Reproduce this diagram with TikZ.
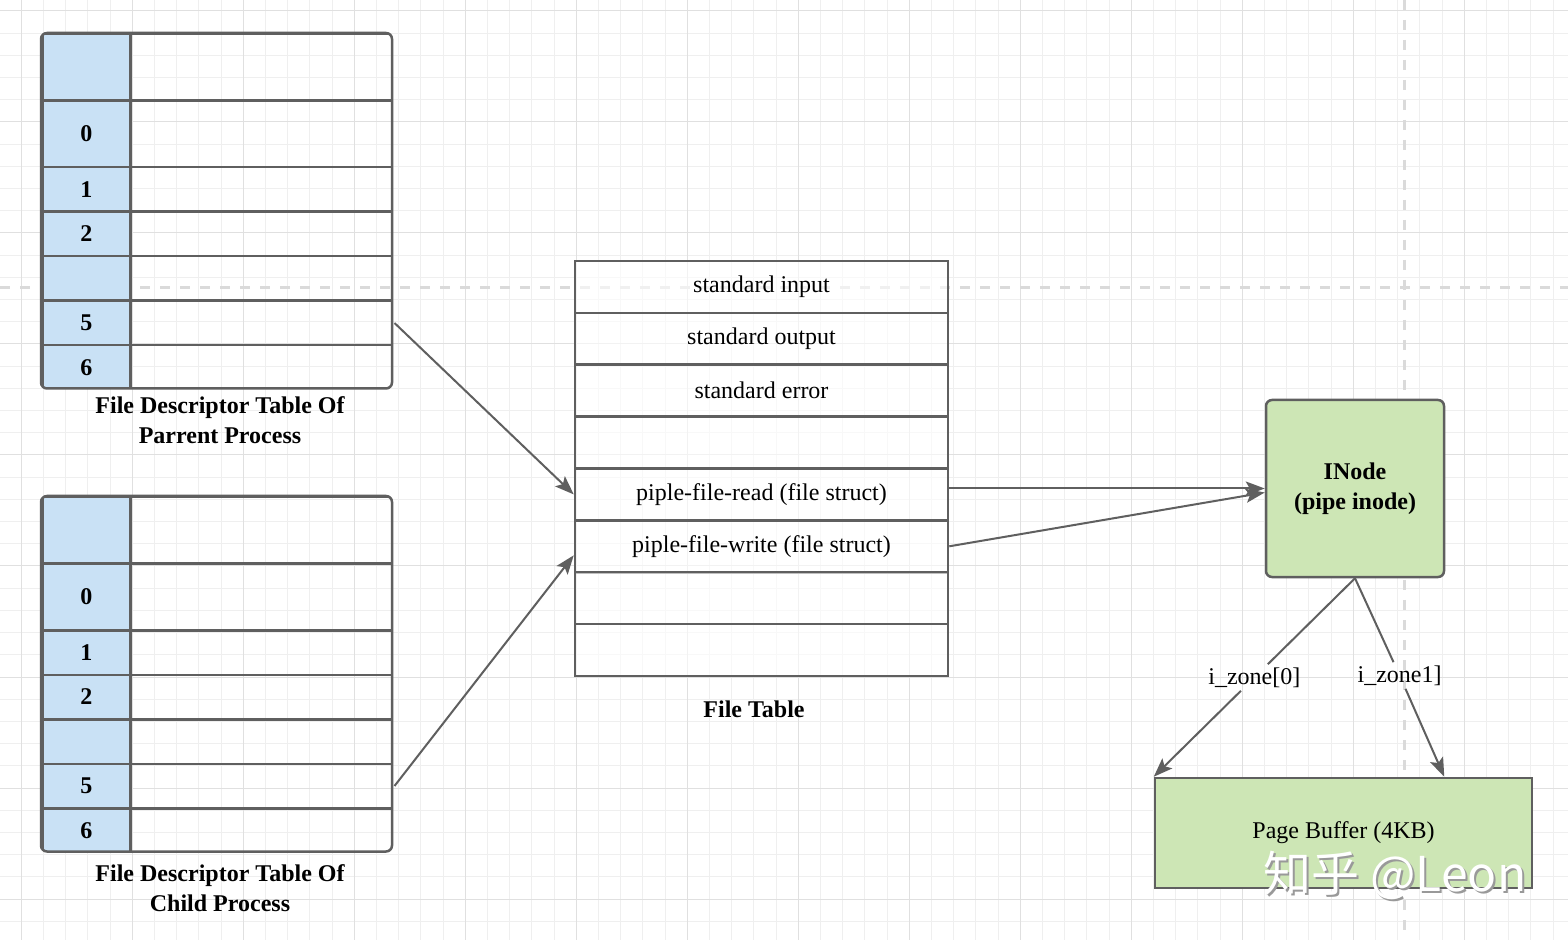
\documentclass[tikz,border=0pt]{standalone}
\usepackage{fontspec}
\setmainfont{Liberation Serif}
\newfontfamily\cjkfont{Noto Sans CJK SC}
\usetikzlibrary{arrows.meta,calc,positioning}

\definecolor{boxline}{HTML}{5F5F5F}
\definecolor{fdblue}{HTML}{C9E1F5}
\definecolor{inodegreen}{HTML}{CDE6B5}
\definecolor{gridminor}{HTML}{EFEFEF}
\definecolor{gridmajor}{HTML}{E0E0E0}
\definecolor{pageline}{HTML}{DADADA}

\tikzset{
  fdidx/.style={draw=boxline,line width=1.25pt,fill=fdblue,anchor=north west,
    minimum width=44pt,inner sep=0pt,font=\fontsize{12}{15}\selectfont\bfseries},
  fdentry/.style={draw=boxline,line width=1.25pt,anchor=north west,
    minimum width=131.5pt,inner sep=0pt},
  ftrow/.style={draw=boxline,line width=1.25pt,fill=white,fill opacity=0.6,text opacity=1,
    minimum width=186.5pt,minimum height=25.94pt,inner sep=0pt},
  greenbox/.style={draw=boxline,line width=1.25pt,fill=inodegreen,inner sep=0pt,align=center},
  ptr/.style={draw=boxline,line width=1pt,-{Stealth[length=9.5pt,width=7pt,inset=2pt]}},
  caption/.style={font=\fontsize{12}{15}\selectfont\bfseries,align=center},
  zonelbl/.style={inner sep=1.5pt},
  watermark/.style={font=\cjkfont\fontsize{24}{24}\selectfont,anchor=base},
}

\begin{document}
\begin{tikzpicture}[x=0.5pt,y=-0.5pt,font=\fontsize{12}{15}\selectfont]
  % fond
  \fill[white] (0,0) rectangle (1568,940);
  \useasboundingbox (0,0) rectangle (1568,940);
  \foreach \k in {-1,...,70} \draw[gridminor,line width=0.5pt] ({21.3+\k*22.2},0) -- ++(0,940);
  \foreach \k in {0,...,42} \draw[gridminor,line width=0.5pt] (0,{11+\k*22.2}) -- ++(1568,0);
  \foreach \k in {0,...,13} \draw[gridmajor,line width=0.5pt] ({21.3+\k*111},0) -- ++(0,940);
  \foreach \k in {0,...,8} \draw[gridmajor,line width=0.5pt] (0,{11+\k*111}) -- ++(1568,0);
  \draw[pageline,line width=1.5pt,dash pattern=on 5pt off 5pt] (0,288) -- (1568,288);
  \draw[pageline,line width=1.5pt,dash pattern=on 5pt off 5pt] (1404,0) -- (1404,940);

  % table du parent
  \begin{scope}
    \clip[rounded corners=3pt] (41,33) rectangle (392,388.5);
    \foreach \top/\h/\lab [count=\i] in {33/66.5/{},99.5/66.5/0,166/44.5/1,210.5/44.5/2,255/44.5/{},299.5/44.5/5,344/44.5/6}{
      \node[fdidx,minimum height=\h*0.5pt] (pi\i) at (41,\top) {\lab};
      \node[fdentry,minimum height=\h*0.5pt] (pe\i) at (129,\top) {};
    }
  \end{scope}
  \draw[boxline,line width=1.25pt,rounded corners=3pt] (41,33) rectangle (392,388.5);
  \node[caption] (ptitle) at (220,420) {File Descriptor Table Of\\Parrent Process};

  % table du fils
  \begin{scope}
    \clip[rounded corners=3pt] (41,496) rectangle (392,851.5);
    \foreach \top/\h/\lab [count=\i] in {496/66.5/{},562.5/66.5/0,629/44.5/1,673.5/44.5/2,718/44.5/{},762.5/44.5/5,807/44.5/6}{
      \node[fdidx,minimum height=\h*0.5pt] (ci\i) at (41,\top) {\lab};
      \node[fdentry,minimum height=\h*0.5pt] (ce\i) at (129,\top) {};
    }
  \end{scope}
  \draw[boxline,line width=1.25pt,rounded corners=3pt] (41,496) rectangle (392,851.5);
  \node[caption] (ctitle) at (220,888) {File Descriptor Table Of\\Child Process};

  % table des fichiers
  \foreach \lab [count=\i] in {standard input,standard output,standard error,{},
      {piple-file-read (file struct)},{piple-file-write (file struct)},{},{}}{
    \node[ftrow] (ft\i) at (761.5,{261+(\i-0.5)*51.875}) {\lab};
  }
  \node[caption] (fttitle) at (754,709) {File Table};

  % inode et tampon
  \node[greenbox,rounded corners=3pt,minimum width=89pt,minimum height=88.5pt,
    font=\fontsize{12}{15}\selectfont\bfseries] (inode) at (1355,488.5) {INode\\(pipe inode)};
  \node[greenbox,minimum width=188.5pt,minimum height=55pt] (pbuf) at (1343.5,833) {Page Buffer (4KB)};

  % Flèches
  \draw[ptr] (pe6.east) -- (ft5.west);
  \draw[ptr] (ce6.east) -- ($(ft6.west)+(0,9)$);
  \draw[ptr] (ft5.east |- inode.west) -- (inode.west);
  \draw[ptr] (ft6.east) -- ($(inode.west)+(0,4)$);

  \coordinate (zone1end) at ($(pbuf.north east)+(-89,0)$);
  \node[zonelbl] (z0) at ($(inode.south)!0.5!(pbuf.north west)$) {i\_zone[0]};
  \node[zonelbl] (z1) at ($(inode.south)!0.5!(zone1end)+(0,-2)$) {i\_zone1]};
  \draw[boxline,line width=1pt] (inode.south) -- (z0);
  \draw[ptr] (z0) -- (pbuf.north west);
  \draw[boxline,line width=1pt] (inode.south) -- (z1);
  \draw[ptr] (z1) -- (zone1end);

  % filigrane
  \node[watermark,text=gray!80] (wmshade) at (1397,893) {知乎 @Leon};
  \node[watermark,text=white] (wm) at (1395,891) {知乎 @Leon};
\end{tikzpicture}
\end{document}
